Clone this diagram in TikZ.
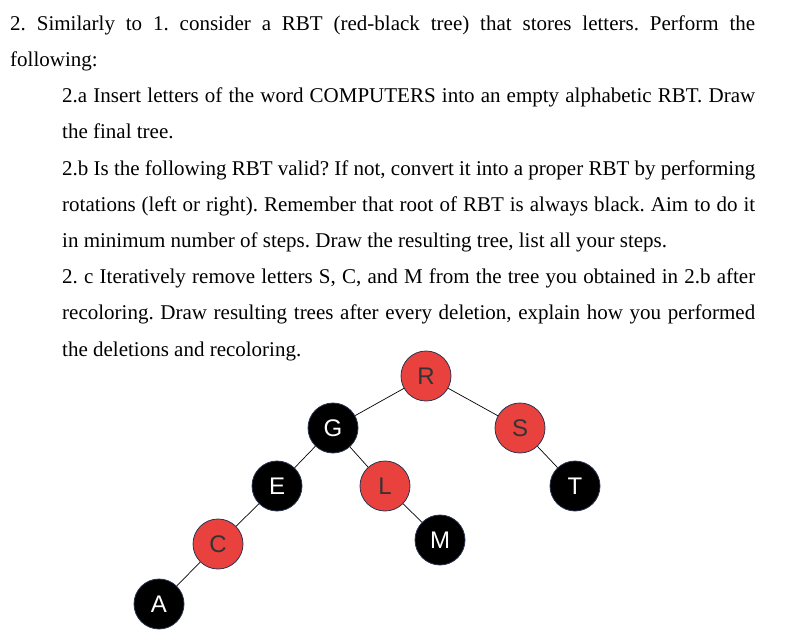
\documentclass[tikz,border=0pt]{standalone}
\usepackage{fontspec}
\setmainfont{Liberation Serif}
\newfontfamily\nodefont{Liberation Sans}
\definecolor{rbred}{HTML}{E8413E}
\definecolor{rbline}{HTML}{2A3550}
\frenchspacing
\begin{document}
\begin{tikzpicture}[x=1pt,y=-1pt,
  txt/.style={anchor=base west,inner sep=0pt,font=\fontsize{21}{24}\selectfont\frenchspacing},
  rn/.style={circle,draw=rbline,line width=0.8pt,fill=rbred,minimum size=50pt,inner sep=0pt,font=\nodefont\fontsize{24}{26}\selectfont,text=black!80},
  bn/.style={circle,draw=rbline,line width=0.8pt,fill=black,minimum size=50pt,inner sep=0pt,font=\nodefont\fontsize{24}{26}\selectfont,text=white},
  edge/.style={draw=black,line width=0.7pt}]
\useasboundingbox (0,0) rectangle (808,643);
\node[txt] (l1) at (10,30) {\makebox[745pt][s]{2. Similarly to 1. consider a RBT (red-black tree) that stores letters. Perform the}};
\node[txt] (l2) at (10,66) {following:};
\node[txt] (l3) at (62,102) {\makebox[693pt][s]{2.a Insert letters of the word COMPUTERS into an empty alphabetic RBT. Draw}};
\node[txt] (l4) at (62,138) {the final tree.};
\node[txt] (l5) at (62,175) {\makebox[693pt][s]{2.b Is the following RBT valid? If not, convert it into a proper RBT by performing}};
\node[txt] (l6) at (62,211) {\makebox[693pt][s]{rotations (left or right). Remember that root of RBT is always black. Aim to do it}};
\node[txt] (l7) at (62,247) {in minimum number of steps. Draw the resulting tree, list all your steps.};
\node[txt] (l8) at (62,283) {\makebox[693pt][s]{2. c Iteratively remove letters S, C, and M from the tree you obtained in 2.b after}};
\node[txt] (l9) at (62,319) {\makebox[693pt][s]{recoloring. Draw resulting trees after every deletion, explain how you performed}};
\node[txt] (l10) at (62,356) {the deletions and recoloring.};
\node[rn] (R) at (426,376) {R};
\node[bn] (G) at (333,428) {G};
\node[rn] (S) at (520,428) {S};
\node[bn] (E) at (277,486) {E};
\node[rn] (L) at (385,486) {L};
\node[bn] (T) at (575,486) {T};
\node[rn] (C) at (218,544) {C};
\node[bn] (M) at (440,540) {M};
\node[bn] (A) at (159,604) {A};
\draw[edge] (R) -- (G);
\draw[edge] (R) -- (S);
\draw[edge] (S) -- (T);
\draw[edge] (G) -- (E);
\draw[edge] (G) -- (L);
\draw[edge] (L) -- (M);
\draw[edge] (E) -- (C);
\draw[edge] (C) -- (A);
\end{tikzpicture}
\end{document}
